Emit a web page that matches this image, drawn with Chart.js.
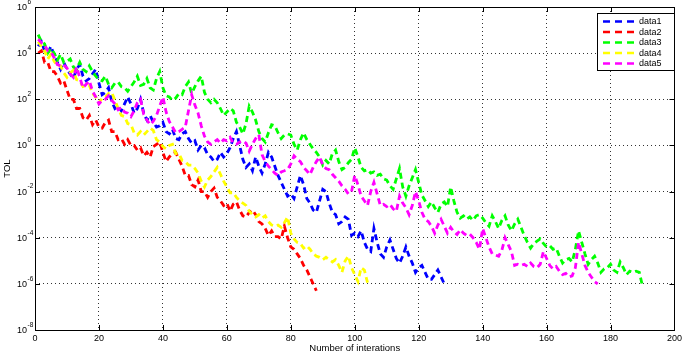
<!DOCTYPE html>
<html><head><meta charset="utf-8">
<script src="https://cdn.jsdelivr.net/npm/chart.js@4"></script>
<style>html,body{margin:0;padding:0;background:#fff;}canvas{display:block;}</style>
</head><body>
<canvas id="c" width="685" height="355"></canvas>
<script>
const seriesLabels = ['data1','data2','data3','data4','data5'];
const seriesColors = ['#0000ff','#ff0000','#00ff00','#ffff00','#ff00ff'];
const xTicks = [0,20,40,60,80,100,120,140,160,180,200];
const yTickExponents = [-8,-6,-4,-2,0,2,4,6];
const xTitle = 'Number of interations';
const yTitle = 'TOL';

// log10 of TOL per iteration (iteration 1..N)
const data1Log = [4.3,4.5,4.1,4.0,4.3,3.9,3.6,3.3,3.6,3.3,
 3.1,2.9,3.3,3.5,3.0,2.8,2.9,3.1,3.3,2.7,
 2.2,2.3,2.5,1.9,1.6,1.7,1.5,1.8,2.1,1.8,
 1.4,1.6,2.0,1.4,1.1,1.3,1.0,0.8,0.85,1.0,
 0.6,0.5,0.7,0.3,0.25,0.5,0.6,0.3,0.1,0.2,
 -0.2,0.0,-0.1,-0.4,-0.5,-0.7,-0.6,-0.3,-0.5,-0.35,
 -0.1,0.3,0.6,0.0,-0.6,-0.95,-0.8,-1.1,-0.5,-0.9,
 -1.2,-0.8,-0.3,-0.5,-0.9,-1.3,-1.6,-1.9,-2.2,-2.1,
 -2.3,-1.8,-1.3,-1.7,-2.3,-2.5,-2.8,-2.9,-2.4,-1.9,
 -2.0,-2.5,-2.9,-3.0,-3.4,-3.3,-3.1,-3.2,-3.9,-3.8,
 -3.95,-3.7,-4.2,-4.5,-4.6,-3.6,-4.2,-4.7,-4.85,-4.4,
 -4.1,-4.5,-4.9,-5.1,-4.8,-4.4,-4.8,-5.1,-5.5,-5.3,
 -5.2,-5.5,-5.8,-5.8,-5.6,-5.4,-5.7,-6.0];
const data2Log = [4.0,4.1,3.6,3.6,3.2,3.2,3.0,2.7,2.8,2.4,
 2.0,2.0,1.6,1.6,1.2,1.1,1.3,0.9,1.1,0.8,
 0.75,1.0,1.1,0.6,0.6,0.25,0.3,0.05,0.25,0.0,
 0.0,-0.2,-0.1,-0.45,-0.3,-0.5,-0.05,0.05,0.15,-0.3,
 -0.7,-0.5,-0.35,-0.3,-0.6,-0.9,-1.3,-1.3,-1.7,-1.8,
 -1.5,-2.0,-2.0,-2.25,-2.0,-1.85,-2.25,-2.4,-2.6,-2.5,
 -2.85,-2.55,-2.45,-2.8,-3.05,-3.1,-2.9,-2.8,-3.0,-3.3,
 -3.4,-3.6,-3.9,-3.7,-3.95,-3.95,-4.05,-3.5,-4.0,-4.4,
 -4.5,-4.7,-4.9,-5.2,-5.4,-5.7,-6.0,-6.3];
const data3Log = [4.8,4.5,4.4,4.0,4.2,4.0,3.7,3.95,3.6,3.65,
 3.75,3.4,3.3,3.6,3.3,3.2,3.45,3.2,3.0,2.85,
 2.8,3.0,2.65,2.5,2.7,2.75,2.55,2.5,2.35,2.55,
 2.75,3.0,2.6,2.65,2.9,2.5,2.4,2.9,3.2,2.5,
 2.15,2.1,1.95,2.05,2.25,2.2,2.55,2.75,2.25,2.55,
 2.8,3.0,2.3,2.0,1.85,2.0,1.85,1.6,1.3,1.45,
 1.6,1.5,1.0,0.8,0.5,0.95,1.7,1.45,1.1,0.6,
 0.3,0.15,0.55,0.9,0.85,0.55,0.3,0.45,0.5,0.45,
 0.05,-0.2,0.25,0.55,0.25,0.05,-0.15,-0.3,-0.5,-0.85,
 -0.65,-0.8,-0.35,-0.2,-0.7,-1.05,-0.95,-0.75,-0.6,-0.1,
 -0.5,-0.95,-1.1,-1.05,-1.2,-1.15,-1.3,-1.25,-1.45,-1.5,
 -1.75,-1.9,-1.45,-1.0,-1.8,-2.2,-1.75,-1.4,-1.05,-1.6,
 -2.15,-2.4,-2.65,-2.45,-2.7,-2.9,-2.55,-2.45,-2.65,-1.8,
 -2.4,-2.9,-3.15,-3.05,-3.2,-3.1,-3.25,-3.05,-3.0,-3.15,
 -3.35,-3.5,-3.05,-3.3,-3.6,-3.25,-3.05,-3.45,-3.7,-3.4,
 -3.2,-3.55,-3.9,-4.2,-4.45,-4.25,-4.15,-4.05,-4.25,-4.4,
 -4.35,-4.5,-4.45,-4.8,-5.1,-4.95,-4.9,-5.05,-4.5,-3.7,
 -4.2,-4.7,-5.15,-4.95,-4.8,-5.1,-5.5,-5.35,-5.3,-5.15,
 -5.4,-5.5,-5.05,-5.3,-5.6,-5.45,-5.5,-5.45,-5.5,-6.1];
const data4Log = [4.5,4.3,4.1,3.75,3.95,3.65,3.45,3.45,3.15,2.95,
 3.15,3.25,2.85,2.8,2.55,2.6,2.6,2.25,2.1,1.85,
 2.05,2.1,2.25,2.3,1.95,1.6,1.3,1.25,0.95,0.9,
 0.55,0.45,0.6,0.45,0.6,0.75,0.65,0.25,0.15,-0.05,
 -0.15,0.0,0.05,-0.35,-0.35,-0.65,-0.7,-0.85,-0.85,-1.0,
 -1.2,-1.55,-1.8,-1.5,-1.35,-1.15,-0.95,-1.25,-1.55,-1.8,
 -2.05,-2.05,-2.25,-2.4,-2.5,-2.6,-2.85,-3.0,-3.1,-3.0,
 -3.15,-3.05,-3.3,-3.45,-3.5,-3.45,-3.55,-3.35,-3.1,-3.8,
 -4.05,-4.2,-4.25,-4.45,-4.35,-4.5,-4.7,-4.8,-4.85,-4.95,
 -4.85,-4.95,-5.05,-4.95,-5.2,-5.5,-5.0,-4.8,-5.3,-5.6,
 -5.9,-5.3,-5.4,-5.95];
const data5Log = [4.6,4.45,4.35,4.1,4.05,3.8,3.5,3.45,3.5,3.35,
 3.1,2.95,3.4,2.95,2.5,2.65,2.8,2.35,2.1,1.8,
 1.95,2.0,2.15,1.95,1.8,1.55,1.65,1.45,1.4,1.25,
 1.5,1.85,2.0,1.35,1.1,0.9,1.05,1.3,1.7,2.1,
 1.45,1.04,0.8,0.55,0.6,0.7,0.8,1.5,2.2,1.75,
 1.4,0.85,0.4,0.15,0.05,0.15,0.25,0.1,0.25,0.2,
 0.35,0.1,0.05,0.15,0.2,0.1,-0.25,0.05,0.3,0.47,
 -0.4,-0.7,-0.9,-1.05,-1.2,-1.3,-1.15,-1.1,-1.04,-0.8,
 -0.45,-0.6,-0.7,-0.95,-1.1,-1.26,-0.95,-0.7,-0.5,-0.85,
 -1.0,-1.05,-1.25,-1.4,-1.55,-1.75,-1.9,-2.1,-2.0,-1.3,
 -1.7,-2.2,-2.4,-2.6,-2.0,-1.6,-2.1,-2.6,-2.55,-2.65,
 -2.55,-2.75,-2.86,-2.2,-2.5,-2.7,-3.0,-2.6,-2.0,-2.4,
 -2.9,-3.2,-3.3,-3.5,-3.8,-3.45,-3.2,-3.5,-3.8,-3.55,
 -3.75,-3.86,-3.65,-3.8,-3.9,-3.85,-4.0,-4.2,-4.5,-3.6,
 -4.0,-4.4,-4.7,-4.75,-4.8,-4.55,-4.0,-4.3,-4.6,-5.2,
 -5.15,-5.2,-5.15,-5.25,-5.1,-5.25,-5.3,-5.15,-4.6,-4.9,
 -5.2,-5.35,-5.25,-5.45,-5.6,-5.55,-5.7,-5.65,-5.3,-4.2,
 -4.7,-5.2,-5.5,-5.7,-5.9,-6.0];

const seriesLogs = [data1Log, data2Log, data3Log, data4Log, data5Log];
const FONT = '"Liberation Sans", Arial, Helvetica, sans-serif';

const matlabAxes = {
  id: 'matlabAxes',
  afterDraw(chart) {
    const ctx = chart.ctx, a = chart.chartArea, xs = chart.scales.x, ys = chart.scales.y;
    ctx.save();
    ctx.strokeStyle = '#000';
    ctx.lineWidth = 1;
    ctx.setLineDash([]);
    ctx.beginPath();
    xTicks.forEach(v => {
      const px = Math.round(xs.getPixelForValue(v)) + 0.5;
      ctx.moveTo(px, a.bottom); ctx.lineTo(px, a.bottom - 5);
      ctx.moveTo(px, a.top); ctx.lineTo(px, a.top + 5);
    });
    yTickExponents.forEach(e => {
      const py = Math.round(ys.getPixelForValue(Math.pow(10, e))) + 0.5;
      ctx.moveTo(a.left, py); ctx.lineTo(a.left + 5, py);
      ctx.moveTo(a.right, py); ctx.lineTo(a.right - 5, py);
    });
    ctx.stroke();
    ctx.strokeRect(Math.round(a.left) + 0.5, Math.round(a.top) + 0.5,
      Math.round(a.right - a.left), Math.round(a.bottom - a.top));

    // y tick labels with superscript exponents
    ctx.fillStyle = '#000';
    ctx.textBaseline = 'middle';
    yTickExponents.forEach(e => {
      const py = ys.getPixelForValue(Math.pow(10, e));
      ctx.font = '9px ' + FONT;
      ctx.textAlign = 'right';
      ctx.fillText('10', a.left - 8, py + 0.5);
      ctx.font = '6.5px ' + FONT;
      ctx.textAlign = 'left';
      ctx.fillText(String(e), a.left - 7.5, py - 5);
    });

    // legend box
    const lx = 597, ly = 13, lw = 77, lh = 57;
    ctx.fillStyle = '#fff';
    ctx.fillRect(lx, ly, lw, lh);
    ctx.strokeStyle = '#000';
    ctx.strokeRect(lx + 0.5, ly + 0.5, lw, lh);
    chart.data.datasets.forEach((ds, k) => {
      const yy = 21.5 + k * 10.5;
      ctx.strokeStyle = ds.borderColor;
      ctx.lineWidth = 2.5;
      ctx.setLineDash([7, 5]);
      ctx.beginPath();
      ctx.moveTo(603, yy); ctx.lineTo(636, yy);
      ctx.stroke();
      ctx.setLineDash([]);
      ctx.fillStyle = '#000';
      ctx.font = '9px ' + FONT;
      ctx.textAlign = 'left';
      ctx.textBaseline = 'middle';
      ctx.fillText(ds.label, 639, yy + 0.5);
    });
    ctx.restore();
  }
};

new Chart(document.getElementById('c'), {
  type: 'line',
  data: {
    datasets: seriesLogs.map((arr, k) => ({
      label: seriesLabels[k],
      data: arr.map((e, i) => ({ x: i + 1, y: Math.pow(10, e) })),
      borderColor: seriesColors[k],
      backgroundColor: seriesColors[k],
      borderWidth: 2.8,
      borderDash: [6, 4],
      pointRadius: 0,
      fill: false,
      tension: 0,
      order: 4 - k
    }))
  },
  options: {
    responsive: false,
    animation: false,
    devicePixelRatio: 1,
    layout: { padding: { top: 7, right: 7, left: 0, bottom: 0 } },
    plugins: { legend: { display: false }, tooltip: { enabled: false } },
    scales: {
      x: {
        type: 'linear', min: 0, max: 200,
        afterBuildTicks: s => { s.ticks = xTicks.map(v => ({ value: v })); },
        afterFit: s => { s.height = 25; },
        grid: { color: '#333', drawTicks: false, lineWidth: 1 },
        border: { display: false, dash: [1, 3] },
        ticks: { padding: 3, color: '#000', maxRotation: 0, autoSkip: false,
          font: { family: FONT, size: 9 }, callback: v => String(v) },
        title: { display: true, text: xTitle, color: '#000',
          font: { family: FONT, size: 9.5 }, padding: { top: 0, bottom: 1 } }
      },
      y: {
        type: 'logarithmic', min: 1e-8, max: 1e6,
        afterBuildTicks: s => { s.ticks = yTickExponents.map(e => ({ value: Math.pow(10, e) })); },
        afterFit: s => { s.width = 35; },
        grid: { color: '#333', drawTicks: false, lineWidth: 1 },
        border: { display: false, dash: [1, 3] },
        ticks: { display: false },
        title: { display: true, text: yTitle, color: '#000',
          font: { family: FONT, size: 9.5 }, padding: { top: 2, bottom: 0 } }
      }
    }
  },
  plugins: [matlabAxes]
});
</script>
</body></html>
